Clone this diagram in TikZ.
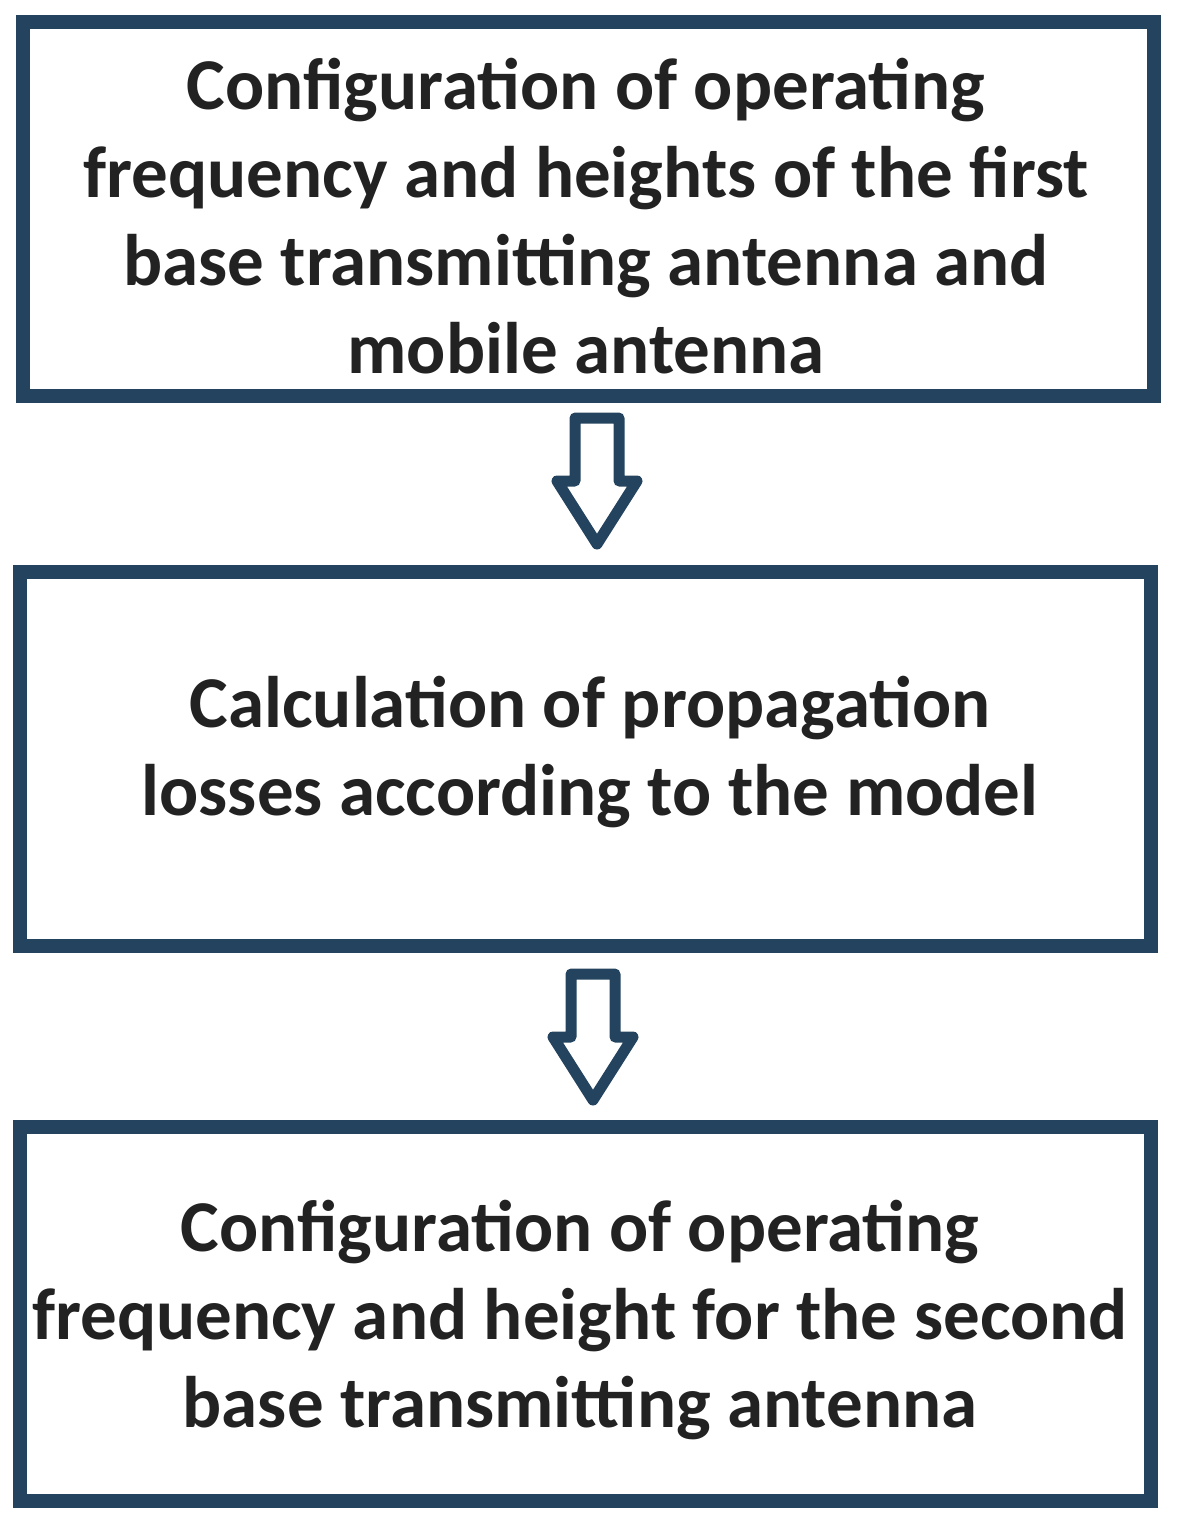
\documentclass[tikz,border=0pt]{standalone}
\usepackage{fontspec}
\setmainfont{Carlito}
\definecolor{navy}{HTML}{24435E}
\definecolor{txt}{HTML}{222222}
\begin{document}
\begin{tikzpicture}[x=1pt,y=-1pt,
  box/.style={draw=navy,line width=14pt,minimum width=1131pt,minimum height=374pt,inner sep=0pt},
  lbl/.style={text=txt,font=\bfseries\fontsize{73}{88}\selectfont,align=center},
  hollow/.style={draw=navy,line width=11pt,line join=round}]
\useasboundingbox (0,0) rectangle (1177,1521);
\node[box] (b1) at (588,209) {};
\node[box] (b2) at (585,759) {};
\node[box] (b3) at (585,1314) {};
\node[lbl] at (586,216) {Configuration of operating\\frequency and heights of the first\\base transmitting antenna and\\mobile antenna};
\node[lbl] at (590,752) {Calculation of propagation\\losses according to the model};
\node[lbl] at (580,1320) {Configuration of operating\\frequency and height for the second\\base transmitting antenna};
\foreach \cx/\ty in {597/418, 593/974}{
  \draw[hollow] (\cx-22,\ty) -- (\cx+22,\ty) -- (\cx+22,\ty+63) -- (\cx+40,\ty+63)
     -- (\cx,\ty+126) -- (\cx-40,\ty+63) -- (\cx-22,\ty+63) -- cycle;
}
\end{tikzpicture}
\end{document}
